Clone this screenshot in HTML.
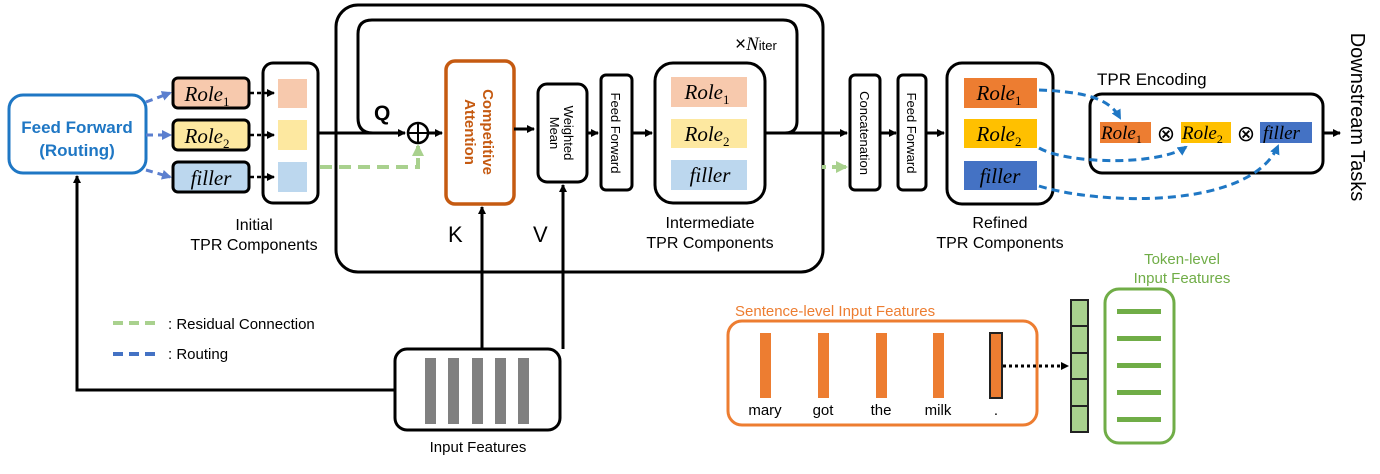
<!DOCTYPE html>
<html><head><meta charset="utf-8"><style>
body{margin:0;background:#fff}
svg{display:block;font-family:"Liberation Sans","DejaVu Sans",sans-serif}
.m{font-family:"Liberation Serif",serif;font-style:italic}
</style></head><body>
<svg width="1380" height="474" viewBox="0 0 1380 474" xmlns="http://www.w3.org/2000/svg">
<defs>
<marker id="a" markerWidth="8" markerHeight="8" refX="7" refY="4" orient="auto" markerUnits="userSpaceOnUse"><path d="M0,0 L8,4 L0,8z" fill="#000"/></marker>
<marker id="ab" markerWidth="10" markerHeight="10" refX="8" refY="5" orient="auto" markerUnits="userSpaceOnUse"><path d="M0,0 L10,5 L0,10z" fill="#1f77c4"/></marker>
<marker id="ar" markerWidth="10" markerHeight="10" refX="8" refY="5" orient="auto" markerUnits="userSpaceOnUse"><path d="M0,0 L10,5 L0,10z" fill="#5b7fcf"/></marker>
<marker id="ag" markerWidth="12" markerHeight="12" refX="10" refY="6" orient="auto" markerUnits="userSpaceOnUse"><path d="M0,0 L12,6 L0,12z" fill="#a9d18e"/></marker>
</defs>
<g fill="none" stroke="#000" stroke-width="3">
<rect x="336" y="5" width="487" height="267" rx="22"/>
<path d="M765,133 H785 Q797,133 797,121 V34 Q797,20 783,20 H372 Q358,20 358,34 V118 Q358,133 373,133"/>
</g>
<rect x="9" y="95" width="137" height="78" rx="14" fill="none" stroke="#1f77c4" stroke-width="3"/>
<text x="77" y="133" font-size="17" font-weight="bold" fill="#1f77c4" text-anchor="middle">Feed Forward</text>
<text x="77" y="156" font-size="17" font-weight="bold" fill="#1f77c4" text-anchor="middle">(Routing)</text>
<g stroke="#5b7fcf" stroke-width="3" stroke-dasharray="7,5" fill="none">
<path d="M146,102 L170,93" marker-end="url(#ar)"/>
<path d="M146,135 L170,135" marker-end="url(#ar)"/>
<path d="M146,170 L170,177" marker-end="url(#ar)"/>
</g>
<g stroke="#000" stroke-width="3">
<rect x="173" y="78" width="76" height="30" rx="5" fill="#f7c9ad"/>
<rect x="173" y="120" width="76" height="30" rx="5" fill="#fde8a0"/>
<rect x="173" y="162" width="76" height="30" rx="5" fill="#bcd7ee"/>
</g>
<g class="m" font-size="21" text-anchor="middle">
<text x="207" y="101">Role<tspan font-size="13" font-style="normal" dy="5">1</tspan></text>
<text x="207" y="143">Role<tspan font-size="13" font-style="normal" dy="5">2</tspan></text>
<text x="211" y="185">filler</text>
</g>
<g stroke="#000" stroke-width="2.5" stroke-dasharray="4,3">
<path d="M250,93 H274" marker-end="url(#a)"/>
<path d="M250,135 H274" marker-end="url(#a)"/>
<path d="M250,177 H274" marker-end="url(#a)"/>
</g>
<rect x="263" y="63" width="55" height="140" rx="10" fill="none" stroke="#000" stroke-width="3"/>
<rect x="278" y="79" width="29" height="29" fill="#f7c9ad"/>
<rect x="278" y="120" width="29" height="30" fill="#fde8a0"/>
<rect x="278" y="162" width="29" height="30" fill="#bcd7ee"/>
<text x="254" y="230" font-size="16" text-anchor="middle">Initial</text>
<text x="254" y="250" font-size="16" text-anchor="middle">TPR Components</text>
<path d="M318,133 H405" stroke="#000" stroke-width="3" marker-end="url(#a)"/>
<text x="374" y="120" font-size="21" font-weight="bold">Q</text>
<circle cx="418" cy="133" r="10" fill="none" stroke="#000" stroke-width="2.5"/>
<path d="M408,133 H428 M418,123 V143" stroke="#000" stroke-width="2"/>
<path d="M428,133 H442" stroke="#000" stroke-width="3" marker-end="url(#a)"/>
<path d="M320,167 H418 V146" stroke="#a9d18e" stroke-width="4" stroke-dasharray="12,7" fill="none" marker-end="url(#ag)"/>
<rect x="446" y="61" width="68" height="143" rx="9" fill="none" stroke="#c55a11" stroke-width="3.5"/>
<g transform="translate(480,132) rotate(90)" font-size="15" font-weight="bold" fill="#c55a11" text-anchor="middle">
<text x="0" y="-3">Competitive</text><text x="0" y="15">Attention</text></g>
<path d="M514,129 H534" stroke="#000" stroke-width="3" marker-end="url(#a)"/>
<rect x="538" y="84" width="49" height="98" rx="9" fill="none" stroke="#000" stroke-width="3"/>
<g transform="translate(562,133) rotate(90)" font-size="13" text-anchor="middle"><text x="0" y="-2">Weighted</text><text x="0" y="12">Mean</text></g>
<path d="M587,133 H598" stroke="#000" stroke-width="3" marker-end="url(#a)"/>
<rect x="601" y="75" width="31" height="115" rx="5" fill="none" stroke="#000" stroke-width="3"/>
<text transform="translate(611,133) rotate(90)" font-size="13" text-anchor="middle">Feed Forward</text>
<path d="M632,133 H652" stroke="#000" stroke-width="3" marker-end="url(#a)"/>
<rect x="655" y="63" width="110" height="140" rx="18" fill="none" stroke="#000" stroke-width="3"/>
<rect x="671" y="77" width="76" height="30" fill="#f7c9ad"/>
<rect x="671" y="119" width="76" height="29" fill="#fde8a0"/>
<rect x="671" y="160" width="76" height="30" fill="#bcd7ee"/>
<g class="m" font-size="21" text-anchor="middle">
<text x="707" y="99">Role<tspan font-size="13" font-style="normal" dy="5">1</tspan></text>
<text x="707" y="141">Role<tspan font-size="13" font-style="normal" dy="5">2</tspan></text>
<text x="710" y="182">filler</text>
</g>
<text x="710" y="228" font-size="16" text-anchor="middle">Intermediate</text>
<text x="710" y="248" font-size="16" text-anchor="middle">TPR Components</text>
<text x="735" y="50" font-size="19">×<tspan class="m">N</tspan><tspan font-size="13">iter</tspan></text>
<text x="448" y="242" font-size="22">K</text>
<text x="533" y="242" font-size="22">V</text>
<path d="M482,349 V207" stroke="#000" stroke-width="3" marker-end="url(#a)"/>
<path d="M563,349 V185" stroke="#000" stroke-width="3" marker-end="url(#a)"/>
<path d="M765,133 H847" stroke="#000" stroke-width="3" marker-end="url(#a)"/>
<path d="M822,167 H846" stroke="#a9d18e" stroke-width="4" stroke-dasharray="4,6" marker-end="url(#ag)"/>
<rect x="850" y="75" width="30" height="115" rx="5" fill="none" stroke="#000" stroke-width="3"/>
<text transform="translate(860,133) rotate(90)" font-size="13" text-anchor="middle">Concatenation</text>
<path d="M880,133 H896" stroke="#000" stroke-width="3" marker-end="url(#a)"/>
<rect x="898" y="75" width="28" height="115" rx="5" fill="none" stroke="#000" stroke-width="3"/>
<text transform="translate(907,133) rotate(90)" font-size="13" text-anchor="middle">Feed Forward</text>
<path d="M926,133 H944" stroke="#000" stroke-width="3" marker-end="url(#a)"/>
<rect x="947" y="63" width="106" height="141" rx="15" fill="none" stroke="#000" stroke-width="3"/>
<rect x="964" y="78" width="73" height="30" fill="#ed7d31"/>
<rect x="964" y="119" width="73" height="29" fill="#ffc000"/>
<rect x="964" y="161" width="73" height="29" fill="#4472c4"/>
<g class="m" font-size="21" text-anchor="middle">
<text x="999" y="100">Role<tspan font-size="13" font-style="normal" dy="5">1</tspan></text>
<text x="999" y="141">Role<tspan font-size="13" font-style="normal" dy="5">2</tspan></text>
<text x="1000" y="183">filler</text>
</g>
<text x="1000" y="228" font-size="16" text-anchor="middle">Refined</text>
<text x="1000" y="248" font-size="16" text-anchor="middle">TPR Components</text>
<text x="1097" y="85" font-size="17">TPR Encoding</text>
<rect x="1090" y="94" width="233" height="79" rx="12" fill="none" stroke="#000" stroke-width="3"/>
<rect x="1100" y="122" width="51" height="21" fill="#ed7d31"/>
<rect x="1181" y="122" width="50" height="21" fill="#ffc000"/>
<rect x="1260" y="122" width="52" height="21" fill="#4472c4"/>
<g class="m" font-size="19">
<text x="1101" y="139">Role<tspan font-size="12" font-style="normal" dy="4">1</tspan></text>
<text x="1182" y="139">Role<tspan font-size="12" font-style="normal" dy="4">2</tspan></text>
<text x="1263" y="139">filler</text>
</g>
<text x="1166" y="141" font-size="22" text-anchor="middle">⊗</text>
<text x="1246" y="141" font-size="22" text-anchor="middle">⊗</text>
<path d="M1323,133 H1340" stroke="#000" stroke-width="3" marker-end="url(#a)"/>
<text transform="translate(1351,117) rotate(90)" font-size="20" text-anchor="middle">Downstream Tasks</text>
<g stroke="#1f77c4" stroke-width="3" stroke-dasharray="8,5" fill="none">
<path d="M1039,90 C1090,92 1110,100 1120,118" marker-end="url(#ab)"/>
<path d="M1039,148 C1070,165 1160,165 1186,147" marker-end="url(#ab)"/>
<path d="M1039,186 C1100,205 1250,210 1278,146" marker-end="url(#ab)"/>
</g>
<path d="M113,323 H160" stroke="#a9d18e" stroke-width="4" stroke-dasharray="10,6"/>
<text x="168" y="329" font-size="15">: Residual Connection</text>
<path d="M113,354 H160" stroke="#4472c4" stroke-width="4" stroke-dasharray="10,6"/>
<text x="168" y="359" font-size="15">: Routing</text>
<path d="M395,390 H77 V176" stroke="#000" stroke-width="3" fill="none" marker-end="url(#a)"/>
<rect x="395" y="349" width="165" height="81" rx="12" fill="#fff" stroke="#000" stroke-width="3"/>
<g fill="#808080">
<rect x="425" y="358" width="11" height="66"/><rect x="448" y="358" width="11" height="66"/><rect x="472" y="358" width="11" height="66"/><rect x="495" y="358" width="11" height="66"/><rect x="518" y="358" width="11" height="66"/>
</g>
<text x="478" y="452" font-size="15" text-anchor="middle">Input Features</text>
<text x="735" y="316" font-size="15" fill="#ed7d31">Sentence-level Input Features</text>
<rect x="728" y="321" width="309" height="104" rx="14" fill="none" stroke="#ed7d31" stroke-width="3"/>
<g fill="#ed7d31">
<rect x="760" y="333" width="11" height="65"/><rect x="818" y="333" width="11" height="65"/><rect x="876" y="333" width="11" height="65"/><rect x="933" y="333" width="11" height="65"/>
</g>
<rect x="990" y="333" width="12" height="65" fill="#ed7d31" stroke="#222" stroke-width="2"/>
<g font-size="15" text-anchor="middle">
<text x="765" y="415">mary</text><text x="823" y="415">got</text><text x="881" y="415">the</text><text x="938" y="415">milk</text><text x="996" y="415">.</text>
</g>
<path d="M1003,366 H1068" stroke="#000" stroke-width="3" stroke-dasharray="3,3" marker-end="url(#a)"/>
<g fill="#a9d18e" stroke="#222" stroke-width="2">
<rect x="1071" y="300" width="17" height="26"/><rect x="1071" y="326" width="17" height="27"/><rect x="1071" y="353" width="17" height="26"/><rect x="1071" y="379" width="17" height="27"/><rect x="1071" y="406" width="17" height="26"/>
</g>
<text x="1182" y="264" font-size="15" fill="#70ad47" text-anchor="middle">Token-level</text>
<text x="1182" y="283" font-size="15" fill="#70ad47" text-anchor="middle">Input Features</text>
<rect x="1105" y="289" width="69" height="154" rx="14" fill="none" stroke="#70ad47" stroke-width="3"/>
<g fill="#70ad47">
<rect x="1117" y="309" width="44" height="5"/><rect x="1117" y="336" width="44" height="5"/><rect x="1117" y="363" width="44" height="5"/><rect x="1117" y="390" width="44" height="5"/><rect x="1117" y="417" width="44" height="5"/>
</g>
</svg>
</body></html>
